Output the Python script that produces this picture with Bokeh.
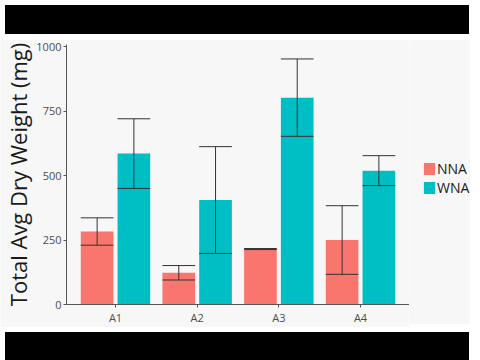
from bokeh.plotting import figure
from bokeh.models import ColumnDataSource, FactorRange, Legend, LegendItem, Div
from bokeh.layouts import column, row
from bokeh.transform import dodge
from bokeh.embed import file_html
from bokeh.resources import INLINE

cats = ["A1", "A2", "A3", "A4"]
series = ["NNA", "WNA"]
nna = [283, 123, 215, 250]
nna_err = [53, 28, 2, 133]
wna = [585, 405, 802, 519]
wna_err = [135, 207, 150, 58]
y_ticks = [0, 250, 500, 750, 1000]
colors = ["#F8766D", "#00BFC4"]

src = ColumnDataSource(dict(
    cat=cats, nna=nna, wna=wna,
    nna_lo=[v - e for v, e in zip(nna, nna_err)],
    nna_hi=[v + e for v, e in zip(nna, nna_err)],
    wna_lo=[v - e for v, e in zip(wna, wna_err)],
    wna_hi=[v + e for v, e in zip(wna, wna_err)],
))

BG = "#f7f7f7"
p = figure(frame_width=343, frame_height=260, output_backend="svg", toolbar_location=None,
           x_range=FactorRange(factors=cats, range_padding=0.05),
           y_range=(0, 1008),
           background_fill_color=BG, border_fill_color=BG,
           min_border_left=60, min_border_right=0, min_border_top=5, min_border_bottom=20)
p.outline_line_color = None
p.grid.visible = False

off = 0.225
bw = 0.4
p.vbar(x=dodge("cat", -off, range=p.x_range), top="nna", bottom=0, width=bw,
       source=src, fill_color=colors[0], line_color=None)
p.vbar(x=dodge("cat", off, range=p.x_range), top="wna", bottom=0, width=bw,
       source=src, fill_color=colors[1], line_color=None)

ec = "#333333"
for o, lo, hi in [(-off, "nna_lo", "nna_hi"), (off, "wna_lo", "wna_hi")]:
    p.segment(x0=dodge("cat", o, range=p.x_range), x1=dodge("cat", o, range=p.x_range),
              y0=lo, y1=hi, source=src, line_color=ec, line_width=1)
    for yy in (lo, hi):
        p.segment(x0=dodge("cat", o - bw / 2, range=p.x_range), x1=dodge("cat", o + bw / 2, range=p.x_range),
                  y0=yy, y1=yy, source=src, line_color=ec, line_width=1)

p.yaxis.ticker = y_ticks
p.yaxis.axis_label = "Total Avg Dry Weight (mg)"
p.yaxis.axis_label_text_font = "Open Sans"
p.yaxis.axis_label_text_font_size = "22px"
p.yaxis.axis_label_text_font_style = "normal"
p.yaxis.axis_label_text_color = "#1a1a1a"
p.yaxis.axis_label_standoff = 0
for ax in (p.xaxis, p.yaxis):
    ax.major_label_text_font = "Open Sans"
    ax.major_label_text_font_size = "11px"
    ax.major_label_text_color = "#4d4d4d"
    ax.major_label_standoff = 2
    ax.axis_line_color = "#555555"
    ax.major_tick_line_color = "#555555"
    ax.major_tick_out = 3
    ax.major_tick_in = 0
    ax.minor_tick_line_color = None

# legend panel (separate small figure; key renderers sit outside its visible range)
lg = figure(width=61, height=285, output_backend="svg", toolbar_location=None,
            x_axis_location=None, y_axis_location=None,
            background_fill_color=BG, border_fill_color=BG,
            min_border=0, x_range=(0, 1), y_range=(0, 1))
lg.outline_line_color = None
lg.grid.visible = False
keys = [lg.vbar(x=[-5], top=[-5], bottom=[-6], width=0.1, fill_color=c, line_color=None)
        for c in colors]
legend = Legend(items=[LegendItem(label=s, renderers=[r]) for s, r in zip(series, keys)],
                location=(13, 104), margin=0, padding=0, spacing=0,
                glyph_width=14, glyph_height=15, label_height=15, label_standoff=1,
                label_text_font="Open Sans", label_text_font_size="14px",
                label_text_color="#1a1a1a",
                background_fill_alpha=0, border_line_color=None)
lg.add_layout(legend)

top = Div(text="", width=464, height=29, styles={"background-color": "black"})
bot = Div(text="", width=464, height=30, styles={"background-color": "black"})
layout = column(top, row(p, lg, spacing=0), bot, spacing=0)

open("out.html", "w").write(file_html(layout, INLINE))
